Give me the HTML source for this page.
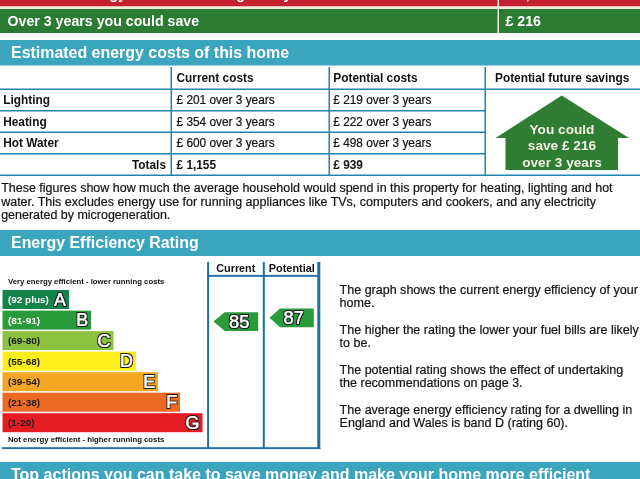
<!DOCTYPE html>
<html><head><meta charset="utf-8"><title>Energy Performance Certificate</title>
<style>
html,body{margin:0;padding:0;background:#fff;}
body{width:640px;height:479px;overflow:hidden;}
svg{display:block;font-family:"Liberation Sans",Arial,sans-serif;}
.b{font-weight:bold}
.w{fill:#fff}
.k{fill:#111}
.t12{font-size:11.85px}
.r{stroke:#111;stroke-width:0.2px}
</style></head><body>
<svg width="640" height="479" viewBox="0 0 640 479">
<defs>
<filter id="ol" x="-30%" y="-30%" width="160%" height="160%">
<feMorphology in="SourceAlpha" operator="dilate" radius="1.25" result="d"/>
<feGaussianBlur in="d" stdDeviation="0.3" result="db"/>
<feFlood flood-color="#1c1c1c" result="f"/>
<feComposite in="f" in2="db" operator="in" result="o"/>
<feMerge><feMergeNode in="o"/><feMergeNode in="SourceGraphic"/></feMerge>
</filter>
</defs>
<rect width="640" height="479" fill="#fff"/>
<!-- top red bar -->
<rect x="0" y="0" width="640" height="6.5" fill="#c5202f"/>
<rect x="0" y="6.5" width="640" height="2.5" fill="#f3ead8"/>
<text x="7.5" y="-0.8" class="b w" font-size="14.2">Estimated energy costs of dwelling for 3 years:</text>
<!-- green bar -->
<rect x="0" y="9" width="640" height="24" fill="#2b7b32"/>
<rect x="497.5" y="0" width="1.5" height="33" fill="#f3ead8"/>
<text x="506" y="-0.8" class="b w" font-size="14.2">£ 1,155</text>
<text x="7.5" y="26" class="b w" font-size="14.2">Over 3 years you could save</text>
<text x="505.5" y="26" class="b w" font-size="14.2">£ 216</text>
<!-- blue bar 1 -->
<rect x="0" y="40" width="640" height="25.5" fill="#3ba5bd"/>
<text x="11" y="57.8" class="b w" font-size="15.95">Estimated energy costs of this home</text>
<!-- table -->
<g fill="#1e84ab">
<rect x="0" y="88.5" width="640" height="1.5"/>
<rect x="0" y="110" width="485" height="1.5"/>
<rect x="0" y="131.5" width="485" height="1.5"/>
<rect x="0" y="153" width="485" height="1.5"/>
<rect x="0" y="174.5" width="640" height="1.5"/>
<rect x="170.5" y="67" width="1.5" height="108"/>
<rect x="328.5" y="67" width="1.5" height="108"/>
<rect x="484.5" y="67" width="1.5" height="108"/>
</g>
<g class="b k t12">
<text x="176.5" y="82">Current costs</text>
<text x="333.3" y="82">Potential costs</text>
<text x="495" y="82" font-size="11.85">Potential future savings</text>
<text x="3.2" y="104">Lighting</text>
<text x="3.2" y="125.5">Heating</text>
<text x="3.2" y="147">Hot Water</text>
<text x="166" y="168.5" text-anchor="end">Totals</text>
<text x="176.5" y="168.5">£ 1,155</text>
<text x="333.3" y="168.5">£ 939</text>
</g>
<g class="k r t12">
<text x="176.5" y="104">£ 201 over 3 years</text>
<text x="176.5" y="125.5">£ 354 over 3 years</text>
<text x="176.5" y="147">£ 600 over 3 years</text>
<text x="333.3" y="104">£ 219 over 3 years</text>
<text x="333.3" y="125.5">£ 222 over 3 years</text>
<text x="333.3" y="147">£ 498 over 3 years</text>
</g>
<!-- house arrow -->
<polygon points="561.75,95.5 629,138 618,138 618,170 505.5,170 505.5,138 495.5,138" fill="#2e7d32"/>
<g class="b" fill="#f3f3e6" font-size="13.65" text-anchor="middle">
<text x="562" y="133.5">You could</text>
<text x="562" y="150">save £ 216</text>
<text x="562" y="166.5">over 3 years</text>
</g>
<!-- paragraph -->
<g class="k r" font-size="12.47">
<text x="1.2" y="192">These figures show how much the average household would spend in this property for heating, lighting and hot</text>
<text x="1.2" y="205.5">water. This excludes energy use for running appliances like TVs, computers and cookers, and any electricity</text>
<text x="1.2" y="219">generated by microgeneration.</text>
</g>
<!-- blue bar 2 -->
<rect x="0" y="230" width="640" height="26" fill="#3ba5bd"/>
<text x="11" y="248" class="b w" font-size="15.95">Energy Efficiency Rating</text>
<!-- chart frame -->
<g fill="#1d6fa6">
<rect x="207.1" y="262" width="2" height="187"/>
<rect x="262.8" y="262" width="2" height="187"/>
<rect x="317.3" y="262" width="3" height="187"/>
<rect x="207.1" y="274.9" width="112" height="1.9"/>
<rect x="2" y="447.2" width="318.3" height="1.9"/>
</g>
<g class="b k" font-size="10.8" text-anchor="middle">
<text x="235.8" y="272">Current</text>
<text x="291.8" y="272" font-size="10.95">Potential</text>
</g>
<text x="8" y="283.7" class="b k" font-size="7.75">Very energy efficient - lower running costs</text>
<text x="8" y="441.7" class="b k" font-size="7.75">Not energy efficient - higher running costs</text>
<!-- bars -->
<rect x="2.5" y="290" width="66.5" height="19" fill="#14834a"/>
<rect x="2.5" y="310.6" width="88.5" height="19" fill="#2a9b3b"/>
<rect x="2.5" y="331.1" width="111" height="19" fill="#8cc23f"/>
<rect x="2.5" y="351.6" width="133.5" height="19" fill="#fdee1c"/>
<rect x="2.5" y="372.2" width="155.5" height="19" fill="#f5a623"/>
<rect x="2.5" y="392.7" width="177.5" height="19" fill="#ec6a23"/>
<rect x="2.5" y="413.2" width="200" height="19" fill="#e31d23"/>
<g class="b" font-size="9.95">
<text x="8" y="303" fill="#fff">(92 plus)</text>
<text x="8" y="323.6" fill="#fff">(81-91)</text>
<text x="8" y="344.1" fill="#1a1a1a">(69-80)</text>
<text x="8" y="364.6" fill="#1a1a1a">(55-68)</text>
<text x="8" y="385.1" fill="#1a1a1a">(39-54)</text>
<text x="8" y="405.7" fill="#1a1a1a">(21-38)</text>
<text x="8" y="426.2" fill="#1a1a1a">(1-20)</text>
</g>
<g font-size="17.9" fill="#fff" stroke="#fff" stroke-width="0.15" text-anchor="end" filter="url(#ol)">
<text x="66" y="305.7">A</text>
<text x="88.2" y="326.3">B</text>
<text x="110.5" y="346.8">C</text>
<text x="133" y="367.3">D</text>
<text x="155.2" y="387.9">E</text>
<text x="177.2" y="408.4">F</text>
<text x="199.5" y="428.9">G</text>
</g>
<!-- rating arrows -->
<polygon points="213.4,321.6 224.7,312.2 258.2,312.2 258.2,331 224.7,331" fill="#2a9b3b"/>
<polygon points="269.5,317.8 280,308.4 313.8,308.4 313.8,327.2 280,327.2" fill="#2a9b3b"/>
<g font-size="18.3" fill="#fff" stroke="#fff" stroke-width="0.15" text-anchor="middle" filter="url(#ol)">
<text x="239.2" y="327.9">85</text>
<text x="293.7" y="324.2">87</text>
</g>
<!-- right text -->
<g class="k r" font-size="12.53">
<text x="339.6" y="294.2">The graph shows the current energy efficiency of your</text>
<text x="339.6" y="307.4">home.</text>
<text x="339.6" y="333.6">The higher the rating the lower your fuel bills are likely</text>
<text x="339.6" y="347">to be.</text>
<text x="339.6" y="373.6">The potential rating shows the effect of undertaking</text>
<text x="339.6" y="387">the recommendations on page 3.</text>
<text x="339.6" y="413.5">The average energy efficiency rating for a dwelling in</text>
<text x="339.6" y="427">England and Wales is band D (rating 60).</text>
</g>
<!-- bottom bar -->
<rect x="0" y="462" width="640" height="17" fill="#3ba5bd"/>
<text x="11" y="480" class="b w" font-size="16">Top actions you can take to save money and make your home more efficient</text>
</svg>
</body></html>
